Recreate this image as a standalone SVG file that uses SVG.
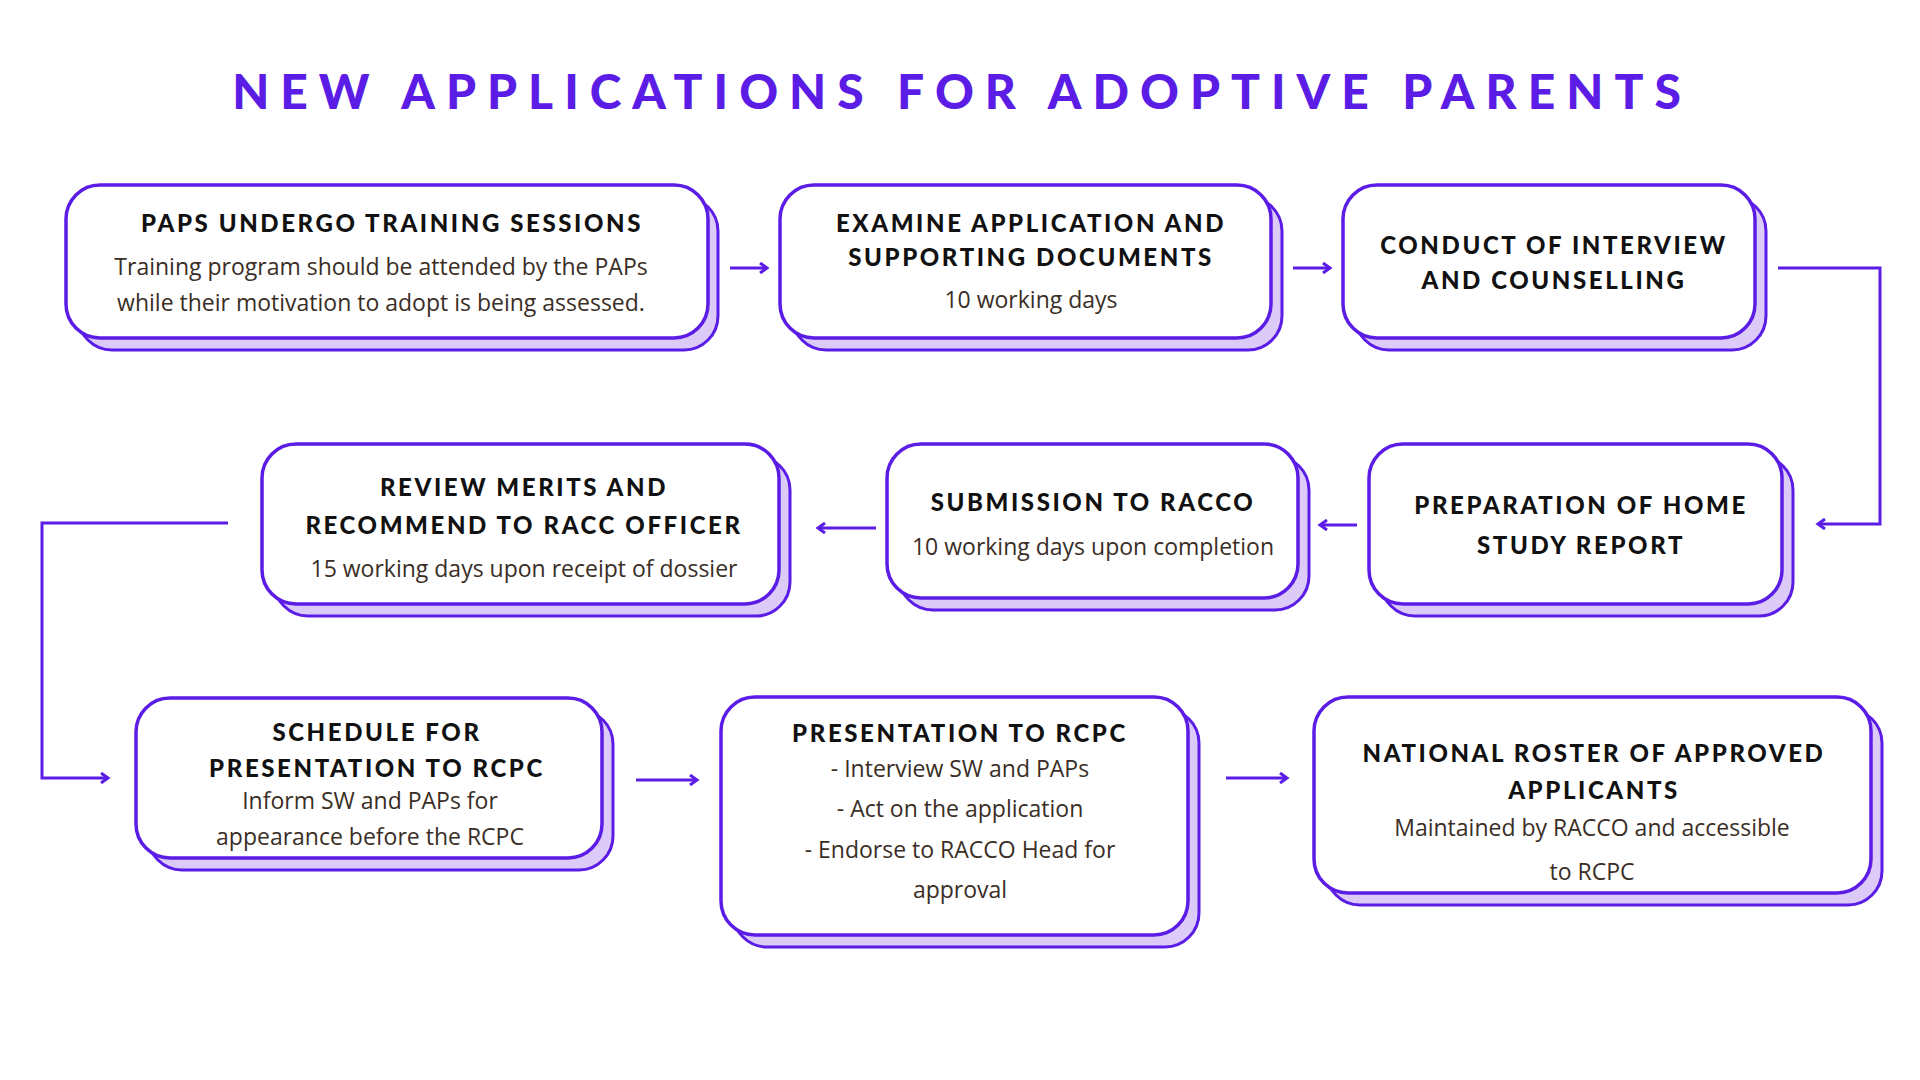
<svg xmlns="http://www.w3.org/2000/svg" width="1920" height="1080" viewBox="0 0 1920 1080">
<style>
.sh{fill:#dccbf8;stroke:#5b1de6;stroke-width:3}
.bx{fill:#fff;stroke:#5b1de6;stroke-width:3.5}
.h{font-family:Lato,"DejaVu Sans",sans-serif;font-weight:900;font-size:24px;letter-spacing:2.6px;fill:#111;text-anchor:middle;dominant-baseline:central}
.b{font-family:"Open Sans","Noto Sans",sans-serif;font-size:23px;fill:#3a2e26;text-anchor:middle;dominant-baseline:central}
.c{fill:none;stroke:#5b1de6;stroke-width:3;marker-end:url(#a)}
</style>
<defs><marker id="a" markerWidth="12" markerHeight="12" refX="9" refY="6" orient="auto" markerUnits="userSpaceOnUse"><path d="M2,1 L9,6 L2,11" fill="none" stroke="#5b1de6" stroke-width="3"/></marker></defs>
<rect width="1920" height="1080" fill="#fff"/>
<text x="962" y="90" font-family="Lato,'DejaVu Sans',sans-serif" font-weight="900" font-size="48" letter-spacing="11" fill="#5b1de6" text-anchor="middle" dominant-baseline="central">NEW APPLICATIONS FOR ADOPTIVE PARENTS</text>
<g id="n1"><rect class="sh" x="78" y="197" width="640" height="153" rx="34"/><rect class="bx" x="66" y="185" width="642" height="153" rx="34"/>
<text class="h" x="392" y="222">PAPS UNDERGO TRAINING SESSIONS</text><text class="b" x="381" y="266">Training program should be attended by the PAPs</text><text class="b" x="381" y="302">while their motivation to adopt is being assessed.</text></g>
<g id="n2"><rect class="sh" x="792" y="197" width="490" height="153" rx="34"/><rect class="bx" x="780" y="185" width="491" height="153" rx="34"/>
<text class="h" x="1031" y="222">EXAMINE APPLICATION AND</text><text class="h" x="1031" y="256">SUPPORTING DOCUMENTS</text><text class="b" x="1031" y="299">10 working days</text></g>
<g id="n3"><rect class="sh" x="1355" y="197" width="411" height="153" rx="34"/><rect class="bx" x="1343" y="185" width="412" height="153" rx="34"/>
<text class="h" x="1554" y="244">CONDUCT OF INTERVIEW</text><text class="h" x="1554" y="279">AND COUNSELLING</text></g>
<g id="n4"><rect class="sh" x="1381" y="456" width="412" height="160" rx="34"/><rect class="bx" x="1369" y="444" width="413" height="160" rx="34"/>
<text class="h" x="1581" y="504" font-size="27">PREPARATION OF HOME</text><text class="h" x="1581" y="544" font-size="27">STUDY REPORT</text></g>
<g id="n5"><rect class="sh" x="899" y="456" width="410" height="154" rx="34"/><rect class="bx" x="887" y="444" width="411" height="154" rx="34"/>
<text class="h" x="1093" y="501">SUBMISSION TO RACCO</text><text class="b" x="1093" y="546">10 working days upon completion</text></g>
<g id="n6"><rect class="sh" x="274" y="456" width="516" height="160" rx="34"/><rect class="bx" x="262" y="444" width="517" height="160" rx="34"/>
<text class="h" x="524" y="486" font-size="26">REVIEW MERITS AND</text><text class="h" x="524" y="524" font-size="26">RECOMMEND TO RACC OFFICER</text><text class="b" x="524" y="568">15 working days upon receipt of dossier</text></g>
<g id="n7"><rect class="sh" x="148" y="710" width="465" height="160" rx="34"/><rect class="bx" x="136" y="698" width="466" height="160" rx="34"/>
<text class="h" x="377" y="731">SCHEDULE FOR</text><text class="h" x="377" y="767">PRESENTATION TO RCPC</text><text class="b" x="370" y="800">Inform SW and PAPs for</text><text class="b" x="370" y="836">appearance before the RCPC</text></g>
<g id="n8"><rect class="sh" x="733" y="709" width="466" height="238" rx="34"/><rect class="bx" x="721" y="697" width="467" height="238" rx="34"/>
<text class="h" x="960" y="732">PRESENTATION TO RCPC</text><text class="b" x="960" y="768" font-size="26">- Interview SW and PAPs</text><text class="b" x="960" y="808" font-size="26">- Act on the application</text><text class="b" x="960" y="849" font-size="26">- Endorse to RACCO Head for</text><text class="b" x="960" y="889" font-size="26">approval</text></g>
<g id="n9"><rect class="sh" x="1326" y="709" width="556" height="196" rx="34"/><rect class="bx" x="1314" y="697" width="557" height="196" rx="34"/>
<text class="h" x="1594" y="752" font-size="26">NATIONAL ROSTER OF APPROVED</text><text class="h" x="1594" y="789" font-size="26">APPLICANTS</text><text class="b" x="1592" y="827" font-size="30">Maintained by RACCO and accessible</text><text class="b" x="1592" y="871" font-size="30">to RCPC</text></g>
<g id="connectors">
<path class="c" d="M730,268 H767"/>
<path class="c" d="M1293,268 H1330"/>
<path class="c" d="M1778,268 H1880 V524 H1818"/>
<path class="c" d="M1357,525 H1320"/>
<path class="c" d="M876,528 H818"/>
<path class="c" d="M228,523 H42 V778 H108"/>
<path class="c" d="M636,780 H697"/>
<path class="c" d="M1226,778 H1287"/>
</g>
</svg>
